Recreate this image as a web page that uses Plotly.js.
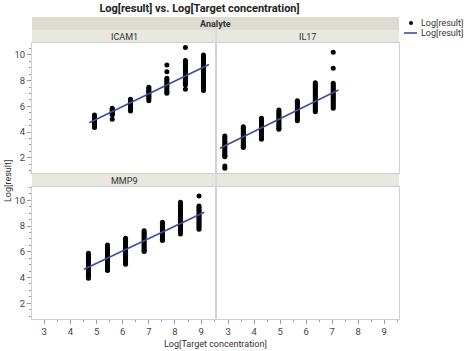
<!DOCTYPE html>
<html>
<head>
<meta charset="utf-8">
<script src="https://cdn.plot.ly/plotly-3.0.1.min.js"></script>
<style>html,body{margin:0;padding:0;background:#fff;}#chart{width:474px;height:351px;}</style>
</head>
<body>
<div id="chart"></div>
<script>
// ---- Data ----
const analytes = ["ICAM1", "IL17", "MMP9"];

const icam1Conc = [4.92, 5.60, 6.30, 7.00, 7.69, 8.40, 9.09];
const icam1Result = [
  [5.32, 5.22, 5.12, 5.02, 4.92, 4.82, 4.72, 4.62, 4.52, 4.42, 4.36],
  [5.85, 5.76, 5.67, 5.58, 5.49, 5.40, 5.32, 4.99],
  [6.55, 6.45, 6.35, 6.25, 6.15, 6.05, 5.95, 5.85, 5.75, 5.64],
  [7.48, 7.38, 7.28, 7.18, 7.08, 6.98, 6.88, 6.78, 6.68, 6.58, 6.44],
  [9.22, 8.70, 8.18, 8.06, 7.94, 7.82, 7.70, 7.58, 7.46, 7.34, 7.22, 7.10, 7.01],
  [10.57, 9.56, 9.44, 9.32, 9.20, 9.08, 8.96, 8.84, 8.72, 8.60, 8.48, 8.36, 8.24, 8.12, 8.00, 7.88, 7.79, 7.66, 7.33],
  [10.00, 9.88, 9.76, 9.64, 9.52, 9.40, 9.28, 9.16, 9.04, 8.92, 8.80, 8.68, 8.56, 8.44, 8.32, 8.20, 8.08, 7.96, 7.84, 7.72, 7.60, 7.48, 7.36, 7.24]
];
const icam1FitX = [4.72, 9.30];
const icam1FitY = [4.72, 9.25];

const il17Conc = [2.87, 3.58, 4.28, 4.95, 5.66, 6.35, 7.04];
const il17Result = [
  [3.69, 3.57, 3.45, 3.33, 3.21, 3.09, 2.97, 2.85, 2.73, 2.61, 2.49, 2.37, 2.25, 2.13, 2.07, 1.35, 1.18],
  [4.41, 4.29, 4.17, 4.05, 3.93, 3.81, 3.69, 3.57, 3.45, 3.33, 3.21, 3.09, 2.97, 2.85, 2.80],
  [5.07, 4.95, 4.83, 4.71, 4.59, 4.47, 4.35, 4.23, 4.11, 3.99, 3.87, 3.75, 3.63, 3.51, 3.43],
  [5.71, 5.59, 5.47, 5.35, 5.23, 5.11, 4.99, 4.87, 4.75, 4.63, 4.51, 4.39, 4.27, 4.21],
  [6.44, 6.32, 6.20, 6.08, 5.96, 5.84, 5.72, 5.60, 5.48, 5.36, 5.24, 5.12, 5.00, 4.88],
  [7.84, 7.72, 7.60, 7.48, 7.36, 7.24, 7.12, 7.00, 6.88, 6.76, 6.64, 6.52, 6.40, 6.28, 6.16, 6.04, 5.92, 5.80, 5.68, 5.58],
  [10.21, 8.96, 7.79, 7.67, 7.55, 7.43, 7.31, 7.19, 7.07, 6.95, 6.83, 6.71, 6.59, 6.47, 6.35, 6.23, 6.11, 5.99, 5.85]
];
const il17FitX = [2.68, 7.24];
const il17FitY = [2.73, 7.27];

const mmp9Conc = [4.69, 5.42, 6.11, 6.82, 7.52, 8.21, 8.92];
const mmp9Result = [
  [5.89, 5.77, 5.65, 5.53, 5.41, 5.29, 5.17, 5.05, 4.93, 4.81, 4.69, 4.57, 4.45, 4.33, 4.21, 4.09, 3.95],
  [6.53, 6.40, 6.28, 6.16, 6.04, 5.92, 5.80, 5.68, 5.56, 5.44, 5.32, 5.20, 5.08, 4.96, 4.84, 4.72, 4.60, 4.54],
  [7.05, 6.93, 6.81, 6.69, 6.57, 6.45, 6.33, 6.21, 6.09, 5.97, 5.85, 5.73, 5.61, 5.49, 5.37, 5.25, 5.13, 5.04],
  [7.64, 7.52, 7.40, 7.28, 7.16, 7.04, 6.92, 6.80, 6.68, 6.56, 6.44, 6.32, 6.20, 6.08, 6.02],
  [8.29, 8.17, 8.05, 7.93, 7.81, 7.69, 7.57, 7.45, 7.33, 7.21, 7.09, 6.97, 6.87],
  [9.84, 9.72, 9.60, 9.48, 9.36, 9.24, 9.12, 9.00, 8.88, 8.76, 8.64, 8.52, 8.40, 8.28, 8.16, 8.04, 7.92, 7.80, 7.68, 7.56, 7.39],
  [10.33, 9.56, 9.44, 9.32, 9.20, 9.08, 8.96, 8.84, 8.72, 8.60, 8.48, 8.36, 8.24, 8.12, 8.00, 7.88, 7.75]
];
const mmp9FitX = [4.52, 9.12];
const mmp9FitY = [4.65, 9.07];

const xTicks = [3, 4, 5, 6, 7, 8, 9];
const yTicks = [2, 4, 6, 8, 10];

// ---- Build traces ----
function flatten(conc, result) {
  const xs = [], ys = [];
  result.forEach((col, i) => col.forEach(v => { xs.push(conc[i]); ys.push(v); }));
  return {xs, ys};
}
const FONT = "Roboto, Noto Sans, sans-serif";
const dotColor = "#000000";
const lineColor = "#3b4f9c";

function panel(conc, result, fitX, fitY, xa, ya) {
  const d = flatten(conc, result);
  return [
    {type: "scatter", mode: "markers", x: d.xs, y: d.ys, xaxis: xa, yaxis: ya,
     marker: {color: dotColor, size: 5}, name: "Log[result]", showlegend: false, hoverinfo: "x+y"},
    {type: "scatter", mode: "lines", x: fitX, y: fitY, xaxis: xa, yaxis: ya,
     line: {color: lineColor, width: 1.6}, name: "Log[result]", showlegend: false}
  ];
}

const data = [].concat(
  panel(icam1Conc, icam1Result, icam1FitX, icam1FitY, "x", "y"),
  panel(il17Conc, il17Result, il17FitX, il17FitY, "x2", "y2"),
  panel(mmp9Conc, mmp9Result, mmp9FitX, mmp9FitY, "x3", "y3")
);
// empty trace for 4th panel
data.push({type: "scatter", mode: "markers", x: [], y: [], xaxis: "x4", yaxis: "y4", showlegend: false});

// ---- Layout ----
const W = 474, H = 351, ML = 32, MR = 75, MT = 43, MB = 32;
const PW = W - ML - MR, PH = H - MT - MB;
const px = v => (v - ML) / PW;          // pixel x -> paper x
const py = v => (H - MB - v) / PH;      // pixel y -> paper y

const split = px(216);
const topBottom = py(173), botTop = py(187);
const xRange = [2.53, 9.57];
const tickFont = {family: FONT, size: 9.5, color: "#444"};

function xAxis(domain, anchor, showLabels) {
  return {
    domain: domain, anchor: anchor, range: xRange, tickvals: xTicks,
    ticktext: xTicks.map(String),
    showticklabels: showLabels, ticks: showLabels ? "outside" : "", ticklen: 4,
    tickcolor: "#999", tickfont: tickFont, showgrid: false, zeroline: false,
    showline: true, linecolor: "#d0d0d0", linewidth: 1, mirror: true,
    minor: showLabels ? {dtick: 0.5, ticks: "outside", ticklen: 2, tickcolor: "#999"} : undefined,
    fixedrange: true
  };
}
function yAxis(domain, anchor, range, showLabels) {
  return {
    domain: domain, anchor: anchor, range: range, tickvals: yTicks,
    ticktext: yTicks.map(String),
    showticklabels: showLabels, ticks: showLabels ? "outside" : "", ticklen: 4,
    tickcolor: "#999", tickfont: tickFont, showgrid: false, zeroline: false,
    showline: true, linecolor: "#d0d0d0", linewidth: 1, mirror: true,
    minor: showLabels ? {dtick: 0.5, ticks: "outside", ticklen: 2, tickcolor: "#999"} : undefined,
    fixedrange: true
  };
}
const yTopRange = [0.81, 10.93];
const yBotRange = [0.78, 11.03];

const stripDark = "#dddcd2";
const stripLight = "#e8e7e0";

const shapes = [
  {type: "rect", xref: "paper", yref: "paper", x0: 0, x1: 1, y0: py(30), y1: py(17), fillcolor: stripDark, line: {width: 0}, layer: "below"},
  {type: "rect", xref: "paper", yref: "paper", x0: 0, x1: 1, y0: py(43), y1: py(30), fillcolor: stripLight, line: {width: 0}, layer: "below"},
  {type: "rect", xref: "paper", yref: "paper", x0: 0, x1: 1, y0: py(187), y1: py(174), fillcolor: stripLight, line: {width: 0}, layer: "below"},
  {type: "line", xref: "paper", yref: "paper", x0: split, x1: split, y0: 0, y1: py(30), line: {color: "#d4d4d4", width: 1}},
  // legend symbols
  {type: "circle", xref: "paper", yref: "paper", x0: px(409), x1: px(413), y0: py(25), y1: py(21), fillcolor: "#000", line: {width: 0}},
  {type: "line", xref: "paper", yref: "paper", x0: px(404), x1: px(417), y0: py(33), y1: py(33), line: {color: lineColor, width: 1.6}}
];

const ann = (text, x, y, opts) => Object.assign({text: text, x: x, y: y, xref: "paper", yref: "paper", showarrow: false,
  font: {family: FONT, size: 9, color: "#333"}}, opts || {});

const annotations = [
  ann("<b>Analyte</b>", 0.5, py(23.5), {xanchor: "center", yanchor: "middle"}),
  ann(analytes[0], px(124), py(36.5), {xanchor: "center", yanchor: "middle"}),
  ann(analytes[1], px(307.5), py(36.5), {xanchor: "center", yanchor: "middle"}),
  ann(analytes[2], px(124), py(180.5), {xanchor: "center", yanchor: "middle"}),
  ann("Log[result]", px(8), py(181), {xanchor: "center", yanchor: "middle", textangle: -90, font: {family: FONT, size: 9, color: "#333"}}),
  ann("Log[Target concentration]", px(215.5), py(344), {xanchor: "center", yanchor: "middle", font: {family: FONT, size: 9, color: "#333"}}),
  ann("Log[result]", px(419), py(23), {xanchor: "left", yanchor: "middle"}),
  ann("Log[result]", px(419), py(33), {xanchor: "left", yanchor: "middle"})
];

const layout = {
  width: W, height: H,
  margin: {l: ML, r: MR, t: MT, b: MB, pad: 0},
  paper_bgcolor: "#ffffff", plot_bgcolor: "#ffffff",
  font: {family: FONT, color: "#333"},
  title: {text: "<b>Log[result] vs. Log[Target concentration]</b>", x: 199.5 / W, xref: "container", xanchor: "center",
          y: 1 - 8.5 / H, yref: "container", yanchor: "middle", font: {family: FONT, size: 11, color: "#222"}},
  showlegend: false,
  xaxis: xAxis([0, split], "y", false),
  xaxis2: xAxis([split, 1], "y2", false),
  xaxis3: xAxis([0, split], "y3", true),
  xaxis4: xAxis([split, 1], "y4", true),
  yaxis: yAxis([topBottom, 1], "x", yTopRange, true),
  yaxis2: yAxis([topBottom, 1], "x2", yTopRange, false),
  yaxis3: yAxis([0, botTop], "x3", yBotRange, true),
  yaxis4: yAxis([0, botTop], "x4", yBotRange, false),
  shapes: shapes,
  annotations: annotations
};

Plotly.newPlot("chart", data, layout, {staticPlot: true, displayModeBar: false});
</script>
</body>
</html>
